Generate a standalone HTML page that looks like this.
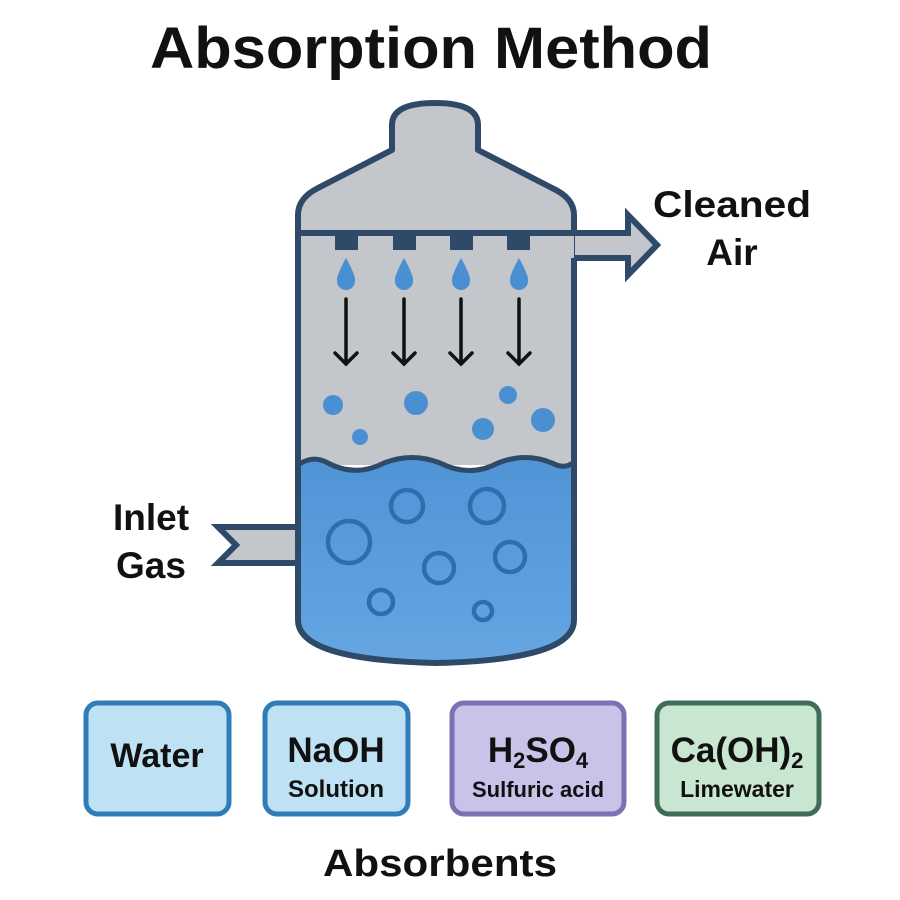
<!DOCTYPE html>
<html><head><meta charset="utf-8"><style>
html,body{margin:0;padding:0;background:#fff;}
svg{display:block;}
text{font-family:"Liberation Sans",sans-serif;font-weight:bold;fill:#111;}
</style></head><body>
<svg width="900" height="900" viewBox="0 0 900 900" xmlns="http://www.w3.org/2000/svg">
<defs>
<linearGradient id="wg" x1="0" y1="0" x2="0" y2="1"><stop offset="0" stop-color="#4f94d6"/><stop offset="1" stop-color="#65a6e2"/></linearGradient>
</defs>
<text x="431" y="68" font-size="58" text-anchor="middle" textLength="562" lengthAdjust="spacingAndGlyphs">Absorption Method</text>

<!-- outlet arrow -->
<polygon points="572,233 628,233 628,215 657,245 628,275 628,258 572,258" fill="#c3c6ca" stroke="#2f4a68" stroke-width="6" stroke-linejoin="miter"/>
<!-- inlet -->
<polygon points="305,527 218,527 236,545 218,563 305,563" fill="#c3c6ca" stroke="#2f4a68" stroke-width="6"/>

<!-- vessel -->
<path d="M298,233 L298,215 Q298,198 318,188 L392,150 L392,125 Q392,103 435,103 Q478,103 478,125 L478,150 L552,188 Q574,198 574,215 L574,233 Z" fill="#c3c6ca" stroke="#2f4a68" stroke-width="6" stroke-linejoin="round"/>
<path d="M298,233 L574,233 L574,465 L298,465 Z" fill="#c3c6ca"/>
<path d="M298,465 Q312,455 326,462 Q355,478 384,463 Q412,452 440,463 Q470,478 498,463 Q526,452 552,463 Q565,470 574,462 L574,620 Q574,660 436,663 Q298,660 298,620 Z" fill="url(#wg)"/>
<path d="M298,465 Q312,455 326,462 Q355,478 384,463 Q412,452 440,463 Q470,478 498,463 Q526,452 552,463 Q565,470 574,462" fill="none" stroke="#2f4a68" stroke-width="5"/>
<path d="M298,233 L298,620 Q298,660 436,663 Q574,660 574,620 L574,258" fill="none" stroke="#2f4a68" stroke-width="6"/>
<line x1="296" y1="233" x2="576" y2="233" stroke="#2f4a68" stroke-width="6"/>

<!-- nozzles -->
<g fill="#2f4a68">
<rect x="335" y="235" width="23" height="15"/><rect x="393" y="235" width="23" height="15"/><rect x="450" y="235" width="23" height="15"/><rect x="507" y="235" width="23" height="15"/>
</g>
<!-- droplets -->
<g fill="#4a8fd2">
<path d="M346,258 Q356,276 355,281 A9,9 0 0 1 337,281 Q336,276 346,258Z"/>
<path d="M404,258 Q414,276 413,281 A9,9 0 0 1 395,281 Q394,276 404,258Z"/>
<path d="M461,258 Q471,276 470,281 A9,9 0 0 1 452,281 Q451,276 461,258Z"/>
<path d="M519,258 Q529,276 528,281 A9,9 0 0 1 510,281 Q509,276 519,258Z"/>
</g>
<!-- arrows -->
<g stroke="#111" stroke-width="3.5" fill="none" stroke-linecap="round">
<path d="M346,299 V364 M335,353 L346,364 L357,353"/>
<path d="M404,299 V364 M393,353 L404,364 L415,353"/>
<path d="M461,299 V364 M450,353 L461,364 L472,353"/>
<path d="M519,299 V364 M508,353 L519,364 L530,353"/>
</g>
<!-- gas bubbles -->
<g fill="#4a8fd2">
<circle cx="333" cy="405" r="10"/><circle cx="416" cy="403" r="12"/><circle cx="508" cy="395" r="9"/><circle cx="360" cy="437" r="8"/><circle cx="483" cy="429" r="11"/><circle cx="543" cy="420" r="12"/>
</g>
<!-- water rings -->
<g fill="none" stroke="#2f6eae" stroke-width="4.5">
<circle cx="407" cy="506" r="16"/><circle cx="487" cy="506" r="17"/><circle cx="349" cy="542" r="21"/><circle cx="439" cy="568" r="15"/><circle cx="510" cy="557" r="15"/><circle cx="381" cy="602" r="12"/><circle cx="483" cy="611" r="9"/>
</g>

<text x="732" y="217" font-size="37" text-anchor="middle" textLength="158" lengthAdjust="spacingAndGlyphs">Cleaned</text>
<text x="732" y="265" font-size="37" text-anchor="middle">Air</text>
<text x="151" y="530" font-size="37" text-anchor="middle">Inlet</text>
<text x="151" y="578" font-size="37" text-anchor="middle">Gas</text>

<!-- boxes -->
<rect x="86" y="703" width="143" height="111" rx="12" fill="#bfe1f4" stroke="#2f7cb8" stroke-width="5"/>
<rect x="265" y="703" width="143" height="111" rx="12" fill="#bfe1f4" stroke="#2f7cb8" stroke-width="5"/>
<rect x="452" y="703" width="172" height="111" rx="12" fill="#c8c3e8" stroke="#7b72b4" stroke-width="5"/>
<rect x="657" y="703" width="162" height="111" rx="12" fill="#c8e6d0" stroke="#3e6e58" stroke-width="5"/>
<text x="157" y="767" font-size="34" text-anchor="middle">Water</text>
<text x="336" y="762" font-size="35" text-anchor="middle">NaOH</text>
<text x="336" y="797" font-size="24" text-anchor="middle">Solution</text>
<text x="538" y="762" font-size="35" text-anchor="middle">H<tspan font-size="22" dy="6">2</tspan><tspan dy="-6">SO</tspan><tspan font-size="22" dy="6">4</tspan></text>
<text x="538" y="797" font-size="22" text-anchor="middle">Sulfuric acid</text>
<text x="737" y="762" font-size="35" text-anchor="middle">Ca(OH)<tspan font-size="22" dy="6">2</tspan></text>
<text x="737" y="797" font-size="23" text-anchor="middle">Limewater</text>

<text x="440" y="876" font-size="38" text-anchor="middle" textLength="234" lengthAdjust="spacingAndGlyphs">Absorbents</text>
</svg>
</body></html>
